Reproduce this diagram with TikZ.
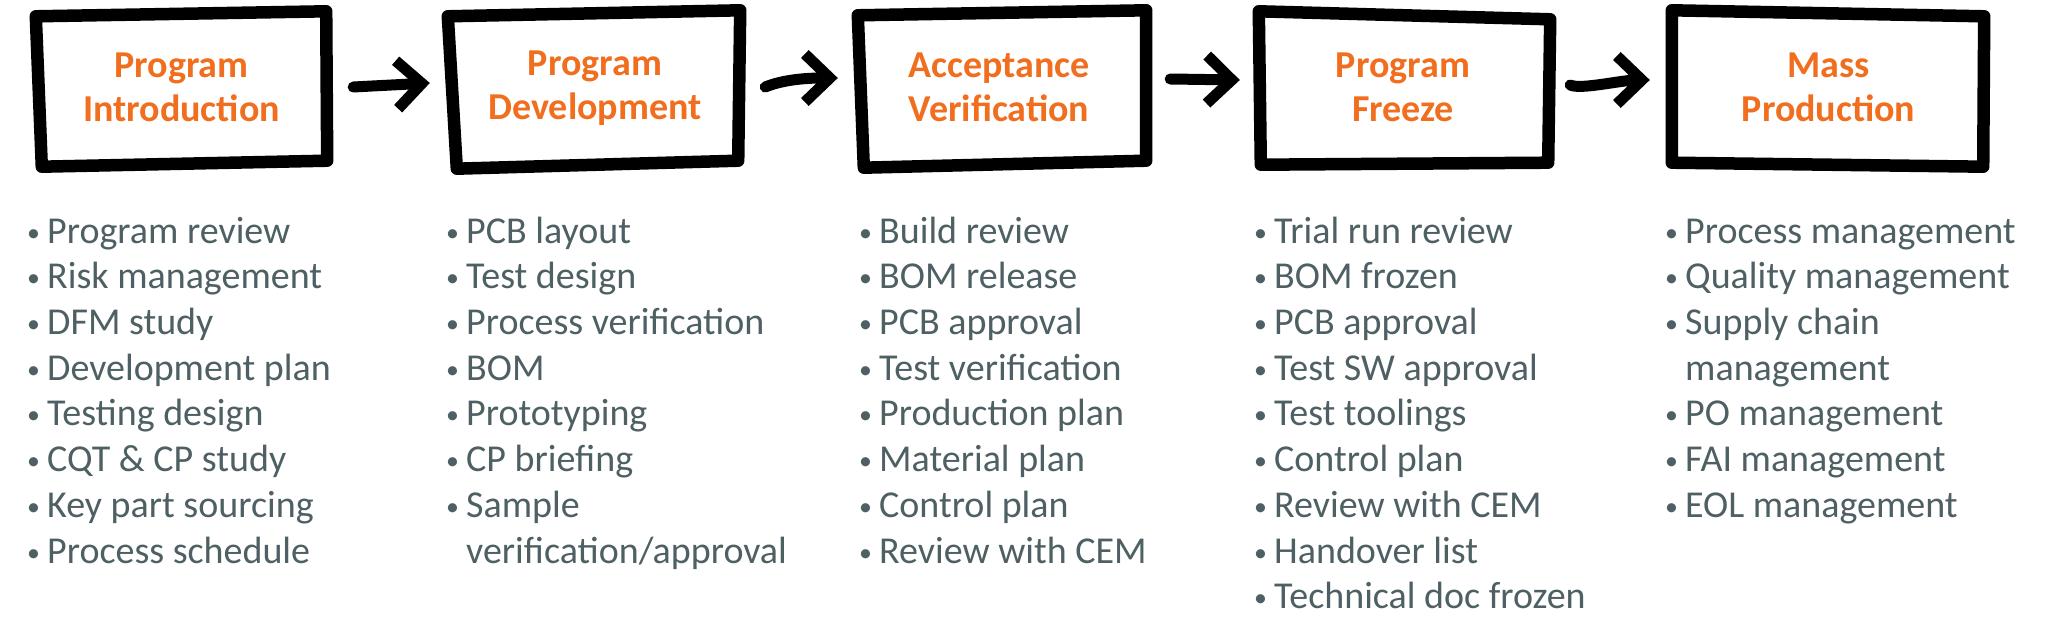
\documentclass[tikz,border=0pt]{standalone}
\usepackage{fontspec}
\setmainfont{Carlito}
\usetikzlibrary{calc,arrows.meta}

\definecolor{stageorange}{RGB}{240,110,30}
\definecolor{itemgray}{RGB}{78,96,100}

\newcommand{\itm}{\strut\makebox[24pt][l]{\hspace{4pt}\raisebox{2pt}{\scalebox{0.68}{\textbullet}}}}
\newcommand{\cnt}{\strut\hspace*{24pt}}
\newcommand{\sketchbox}[5]{%
  \draw[sketch] ($(#1.north west)+#2$) -- ($(#1.north east)+#3$)
    -- ($(#1.south east)+#4$) -- ($(#1.south west)+#5$) -- cycle;}

\begin{document}
\begin{tikzpicture}[x=1pt,y=-1pt,
  stage/.style={inner sep=0pt, minimum height=151pt, align=center,
    text=stageorange, font=\bfseries\fontsize{38}{44}\selectfont},
  sketch/.style={line width=12.5pt, line join=round, line cap=round},
  flow/.style={line width=11pt, line cap=round,
    -{Straight Barb[length=25pt,width=48pt]}},
  items/.style={inner sep=0pt, anchor=north west, align=left,
    text=itemgray, font=\fontsize{38}{45.7}\selectfont}]
\fill[white] (0,0) rectangle (2048,628);

% stages
\node[stage, minimum width=291pt] (intro)  at (181.5,89) {};
\node[stage, minimum width=290pt] (dev)    at (595,89)   {};
\node[stage, minimum width=288pt] (accept) at (1004,89)  {};
\node[stage, minimum width=290pt] (freeze) at (1405,89)  {};
\node[stage, minimum width=313pt] (mass)   at (1828.5,89) {};
\node[stage] (intro-txt)  at ($(intro)+(0,-2)$)  {Program\\Introduction};
\node[stage] (dev-txt)    at ($(dev)+(0,-1)$)    {Program\\Development};
\node[stage] (accept-txt) at ($(accept)+(-5,-2)$) {Acceptance\\Verification};
\node[stage] (freeze-txt) at ($(freeze)+(-2,-2)$) {Program\\Freeze};
\node[stage] (mass-txt)   at ($(mass)+(0,-2)$)   {Mass\\Production};

\sketchbox{intro}{(0,3)}{(-1,-2)}{(0,-4)}{(6,2)}
\sketchbox{dev}{(-2,3)}{(0,-3)}{(-2,-4)}{(7,4)}
\sketchbox{accept}{(-2,2)}{(-2,-3)}{(-2,-4)}{(4,3)}
\sketchbox{freeze}{(-1,-2)}{(0,6)}{(-2,-2)}{(1,0)}
\sketchbox{mass}{(0,-3)}{(-1,3)}{(-2,2)}{(0,-2)}

% arrows
\draw[flow] ($(intro.east)+(26,-2)$) -- ($(dev.west)+(-20,-6)$);
\draw[flow] ($(dev.east)+(25,-2)$) .. controls +(22,-9) and +(-22,0) .. ($(accept.west)+(-22,-11)$);
\draw[flow] ($(accept.east)+(22,-10)$) -- ($(freeze.west)+(-20,-9)$);
\draw[flow] ($(freeze.east)+(20,-4)$) .. controls +(10,5) and +(-28,0) .. ($(mass.west)+(-22,-9)$);

% task lists
\node[items] (intro-list) at (23,211) {\itm Program review\\ \itm Risk management\\
  \itm DFM study\\ \itm Development plan\\ \itm Testing design\\
  \itm CQT \& CP study\\ \itm Key part sourcing\\ \itm Process schedule};
\node[items] (dev-list) at (442,211) {\itm PCB layout\\ \itm Test design\\
  \itm Process verification\\ \itm BOM\\ \itm Prototyping\\ \itm CP briefing\\
  \itm Sample\\ \cnt verification/approval};
\node[items] (accept-list) at (855,211) {\itm Build review\\ \itm BOM release\\
  \itm PCB approval\\ \itm Test verification\\ \itm Production plan\\
  \itm Material plan\\ \itm Control plan\\ \itm Review with CEM};
\node[items] (freeze-list) at (1250,211) {\itm Trial run review\\ \itm BOM frozen\\
  \itm PCB approval\\ \itm Test SW approval\\ \itm Test toolings\\
  \itm Control plan\\ \itm Review with CEM\\ \itm Handover list\\
  \itm Technical doc frozen};
\node[items] (mass-list) at (1661,211) {\itm Process management\\
  \itm Quality management\\ \itm Supply chain\\ \cnt management\\
  \itm PO management\\ \itm FAI management\\ \itm EOL management};
\end{tikzpicture}
\end{document}
